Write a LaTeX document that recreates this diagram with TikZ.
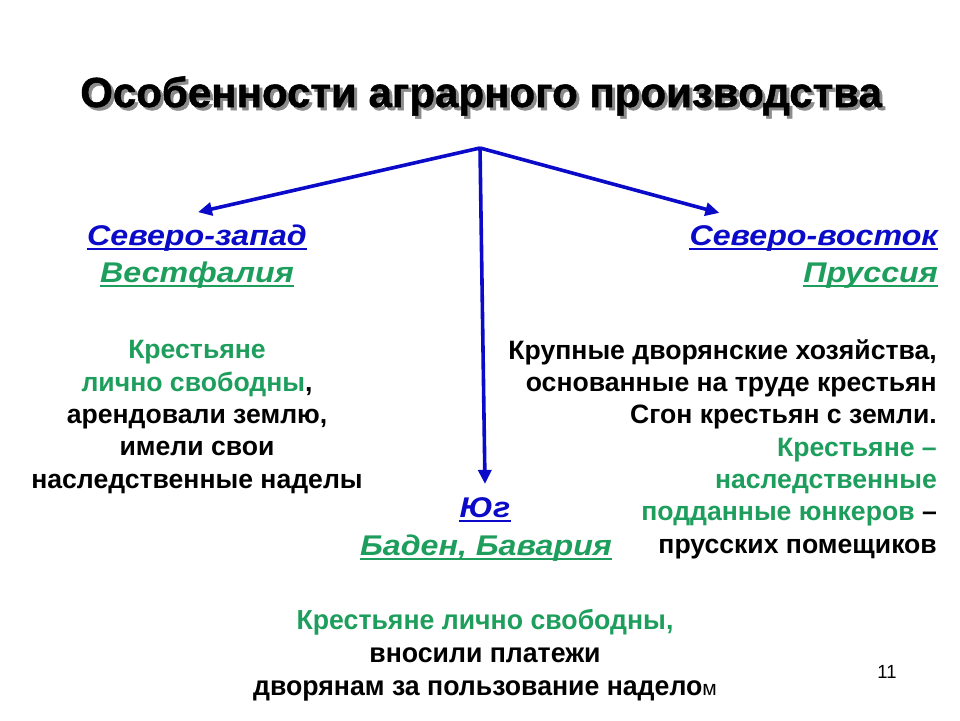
\documentclass[tikz,border=0pt]{standalone}
\usepackage{fontspec}
\setmainfont{Liberation Sans}
\newfontfamily\narrowfont[FakeStretch=0.97]{Liberation Sans}
\newfontfamily\widefont[FakeStretch=1.13]{Liberation Sans}
\newfontfamily\titlefont[FakeBold=1.2]{Liberation Sans}
\usepackage{xcolor}
\usetikzlibrary{arrows.meta, positioning}

\definecolor{slideblue}{RGB}{10,10,200}
\definecolor{slidegreen}{RGB}{30,158,92}

\begin{document}
\begin{tikzpicture}[
    x=1pt, y=-1pt,
    head/.style={font=\fontsize{28.5}{32}\selectfont\widefont\bfseries\itshape, inner sep=0pt, anchor=base},
    body/.style={font=\fontsize{26.6}{32.3}\selectfont\bfseries, inner sep=0pt},
    narrow/.style={font=\fontsize{27.5}{33}\selectfont\narrowfont\bfseries, inner sep=0pt},
    uline/.style={line width=2pt},
    arrow/.style={-{Triangle[length=14pt,width=13pt]}, line width=3.6pt, slideblue}
]
\useasboundingbox (0,0) rectangle (960,720);

% ---- Title ----
\node[font=\fontsize{42}{48}\selectfont\titlefont\bfseries, text=black!45, anchor=base] (titleshadow) at (484,110) {Особенности аграрного производства};
\node[font=\fontsize{42}{48}\selectfont\titlefont\bfseries, anchor=base] (title) at (481,107) {Особенности аграрного производства};
\coordinate (fork) at (480,148);

% ---- North-west ----
\node[head, text=slideblue] (nw) at (197,245) {Северо-запад};
\node[head, text=slidegreen] (nwsub) at (197,282) {Вестфалия};
\node[body, align=center] (nwtext) at (197,417) {%
    \textcolor{slidegreen}{Крестьяне}\\
    \textcolor{slidegreen}{лично свободны},\\
    арендовали землю,\\
    имели свои\\
    наследственные наделы};

% ---- North-east ----
\node[head, text=slideblue, anchor=base east] (ne) at (938,245) {Северо-восток};
\node[head, text=slidegreen, anchor=base east] (nesub) at (938,282) {Пруссия};
\node[body, align=right, anchor=east] (netext) at (937,449) {%
    Крупные дворянские хозяйства,\\
    основанные на труде крестьян\\
    Сгон крестьян с земли.\\
    \textcolor{slidegreen}{Крестьяне –}\\
    \textcolor{slidegreen}{наследственные}\\
    \textcolor{slidegreen}{подданные юнкеров} –\\
    прусских помещиков};

% ---- South ----
\node[head, text=slideblue] (s) at (485,517) {Юг};
\node[head, text=slidegreen] (ssub) at (486,555) {Баден, Бавария};
\node[narrow, align=center] (stext) at (485,655) {%
    \textcolor{slidegreen}{Крестьяне лично свободны,}\\
    вносили платежи\\
    дворянам за пользование надело{\normalfont\fontsize{21}{24}\selectfont м}};

% ---- Page number ----
\node[font=\fontsize{19}{22}\selectfont\narrowfont, inner sep=0pt] (pagenum) at (887,672) {11};

% ======== Underlines ========
\draw[uline, slideblue]  ([yshift=-3.5pt]nw.base west)    -- ([yshift=-3.5pt]nw.base east);
\draw[uline, slidegreen] ([yshift=-3.5pt]nwsub.base west) -- ([yshift=-3.5pt]nwsub.base east);
\draw[uline, slideblue]  ([yshift=-3.5pt]ne.base west)    -- ([yshift=-3.5pt]ne.base east);
\draw[uline, slidegreen] ([yshift=-3.5pt]nesub.base west) -- ([yshift=-3.5pt]nesub.base east);
\draw[uline, slideblue]  ([yshift=-3.5pt]s.base west)     -- ([yshift=-3.5pt]s.base east);
\draw[uline, slidegreen] ([yshift=-3.5pt]ssub.base west)  -- ([yshift=-3.5pt]ssub.base east);

% ======== Arrows ========
\draw[arrow] (fork) -- ([xshift=1pt, yshift=12pt]nw.north);
\draw[arrow] (fork) -- ([xshift=30pt, yshift=12pt]ne.north west);
\draw[arrow] (fork) -- ([yshift=13pt]s.north);

\end{tikzpicture}
\end{document}
